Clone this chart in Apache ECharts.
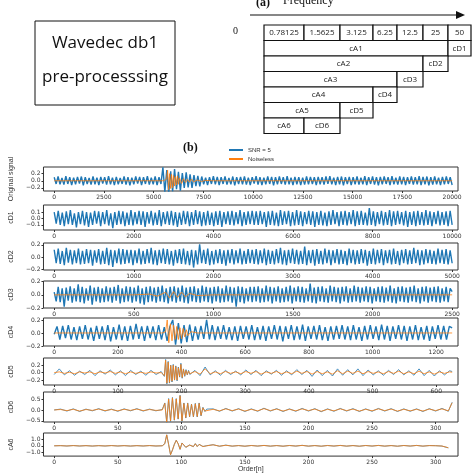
<!DOCTYPE html>
<html><head><meta charset="utf-8">
<script src="https://cdn.jsdelivr.net/npm/echarts@6/dist/echarts.min.js"></script>
<style>html,body{margin:0;padding:0;background:#fff}#c{width:474px;height:474px}</style>
</head><body><div id="c"></div>
<script>
// ---------- data ----------
const freqLabels = ['0.78125','1.5625','3.125','6.25','12.5','25','50'];
const approxLabels = ['cA1','cA2','cA3','cA4','cA5','cA6'];
const detailLabels = ['cD1','cD2','cD3','cD4','cD5','cD6'];
const panelNames = ['Original signal','cD1','cD2','cD3','cD4','cD5','cD6','cA6'];
const panelLengths = [20000,10000,5000,2500,1250,625,313,313];
const xTicks = [
 [0,2500,5000,7500,10000,12500,15000,17500,20000],
 [0,2000,4000,6000,8000,10000],
 [0,1000,2000,3000,4000,5000],
 [0,500,1000,1500,2000,2500],
 [0,200,400,600,800,1000,1200],
 [0,100,200,300,400,500,600],
 [0,50,100,150,200,250,300],
 [0,50,100,150,200,250,300]];
const yTicks = [[-0.2,0,0.2],[-0.1,0,0.1],[-0.2,0,0.2],[-0.2,0,0.2],[-0.2,0,0.2],[-0.2,0,0.2],[-0.5,0,0.5],[-1,0,1]];
const yRanges = [[-0.29,0.39],[-0.18,0.21],[-0.21,0.23],[-0.2,0.21],[-0.2,0.23],[-0.33,0.39],[-0.55,0.82],[-1.5,1.87]];

const origNoisy = [.1,-.09,.12,-.1,.08,-.11,.13,-.09,.1,-.12,.09,-.1,.11,-.08,.12,-.13,.1,-.09,.08,-.11,.12,-.1,.09,-.12,.11,-.08,.1,-.11,.13,-.1,.09,-.12,.11,-.1,.08,-.09,.12,-.11,.1,-.13,.09,-.1,.12,-.08,.11,-.12,.1,-.09,.13,-.11,.09,-.1,.12,-.12,.1,-.09,
 .38,-.32,.3,-.35,.27,-.3,.33,-.24,.25,-.28,.22,-.2,.24,-.19,.18,-.2,.16,-.15,.14,-.16,
 .12,-.1,.09,-.12,.1,-.09,.13,-.1,.11,-.12,.1,-.09,.12,-.11,.08,-.1,.12,-.13,.1,-.09,.11,-.1,.12,-.11,.09,-.12,.1,-.08,.13,-.11,.1,-.12,.09,-.1,.12,-.09,.11,-.13,.1,-.1,.12,-.09,.1,-.11,.13,-.1,.09,-.12,.11,-.1,.1,-.12,.09,-.11,.12,-.1,.11,-.09,.1,-.12,.11,-.1,
 .1,-.11,.12,-.09,.13,-.1,.09,-.12,.11,-.1,.12,-.13,.1,-.09,.11,-.12,.1,-.1,.12,-.11,.09,-.1,.13,-.12,.1,-.09,.12,-.11,.1,-.13,.11,-.1,.12,-.09,.1,-.12,.13,-.1,.09,-.11,.12,-.1,.11,-.12,.1,-.09,.12,-.11,.1,-.1,.13,-.12,.11,-.1,.12,-.13,.1,-.11,.12,-.1,.09,-.12,.11,-.1,.12,-.09,.1,-.12];
const origCleanX = [0,5500,5650,5700,5750,5800,5850,5900,5950,6000,6050,6100,6150,6200,6250,6300,6400,6500,6600,6700,6800,6900,7000,7200,7400,7600,8000,20000];
const origCleanY = [0,0,0.05,0.3,-0.25,0.2,-0.22,0.18,-0.2,0.15,-0.15,0.12,-0.12,0.14,-0.1,0.08,-0.08,0.06,-0.05,0.04,-0.04,0.05,-0.03,0.02,-0.02,0.01,0,0];
const cD1Noisy = [.1,-.08,.12,-.1,.09,-.12,.11,-.09,.13,-.1,.08,-.14,.1,-.09,.12,-.11,.1,-.13,.09,-.1,.12,-.08,.11,-.12,.1,-.09,.13,-.11,.08,-.15,.1,-.1,.12,-.09,.11,-.12,.09,-.1,.13,-.11,.1,-.09,.12,-.1,.11,-.13,.1,-.08,.12,-.11,.09,-.1,.13,-.12,.1,-.09,.11,-.1,.12,-.11,.1,-.13,.09,-.1,.12,-.09,.11,-.12,.1,-.1,.13,-.09,.11,-.12,.1,-.11,.12,-.1,.09,-.12,.11,-.1,.12,-.13,.1,-.09,.11,-.1,.12,-.11,.1,-.09,.13,-.12,.1,-.1,.11,-.09,.12,-.1,
 .11,-.1,.12,-.09,.1,-.13,.11,-.1,.12,-.11,.09,-.12,.13,-.1,.11,-.09,.12,-.12,.1,-.11,.13,-.1,.11,-.12,.1,-.09,.12,-.1,.11,-.13,.1,-.1,.12,-.11,.09,-.12,.11,-.1,.13,-.09,.1,-.12,.11,-.1,.12,-.11,.1,-.09,.13,-.12,.11,-.1,.12,-.1,.09,-.11,.16,-.1,.11,-.12,.1,-.09,.12,-.11,.1,-.1,.13,-.12,.11,-.1,.12,-.09,.1,-.11,.12,-.13,.1,-.1,.11,-.12,.12,-.1,.1,-.11,.13,-.1,.11,-.12,.1,-.09,.12,-.11,.1,-.1,.11,-.12,.12,-.1];
const cD2Noisy = [.12,-.1,.14,-.11,.1,-.13,.15,-.09,.12,-.12,.11,-.1,.14,-.12,.1,-.11,.13,-.1,.12,-.14,.11,-.09,.13,-.12,.1,-.11,.15,-.13,.12,-.16,.11,-.1,.14,-.12,.13,-.11,.12,-.1,.12,-.13,.11,-.1,.14,-.12,.1,-.11,.13,-.1,.15,-.12,.11,-.13,.12,-.1,.14,-.11,.13,-.12,.1,-.14,.12,-.1,.13,-.11,.14,-.12,.1,-.13,.12,-.17,.11,-.12,.21,-.1,.12,-.11,.14,-.13,.1,-.12,.12,-.1,.13,-.11,.11,-.14,.12,-.1,.13,-.12,.11,-.1,.14,-.12,.1,-.11,.13,-.1,.12,-.11,
 .13,-.12,.11,-.1,.14,-.13,.12,-.11,.1,-.12,.13,-.1,.15,-.12,.11,-.13,.12,-.1,.14,-.11,.12,-.12,.1,-.11,.17,-.13,.11,-.1,.12,-.14,.13,-.11,.1,-.12,.14,-.1,.12,-.13,.11,-.1,.13,-.12,.12,-.11,.1,-.13,.14,-.1,.12,-.12,.11,-.11,.13,-.1,.12,-.14,.1,-.11,.14,-.12,.12,-.1,.13,-.13,.11,-.1,.12,-.12,.14,-.11,.1,-.13,.12,-.1,.13,-.12,.11,-.11,.15,-.1,.12,-.13,.11,-.12,.13,-.1,.12,-.11,.1,-.12,.14,-.1,.12,-.11,.13,-.12,.11,-.1];
const cD3Noisy = [.04,-.1,.12,-.11,.1,-.18,.11,-.09,.13,-.12,.1,-.1,.16,-.11,.12,-.13,.1,-.09,.14,-.15,.11,-.1,.12,-.12,.1,-.11,.13,-.1,.11,-.12,.12,-.09,.15,-.13,.1,-.11,.13,-.1,.12,-.12,.11,-.1,.14,-.13,.1,-.15,.12,-.11,.13,-.1,.11,-.12,.12,-.1,.14,-.11,.1,-.13,.12,-.1,.13,-.12,.11,-.1,.14,-.12,.11,-.13,.12,-.1,.13,-.11,.1,-.12,.14,-.1,.12,-.11,.11,-.13,.12,-.1,.13,-.12,.1,-.11,.14,-.1,.12,-.12,.11,-.18,.13,-.11,.12,-.13,.1,-.1,.12,-.11,
 .12,-.1,.13,-.12,.1,-.11,.14,-.1,.12,-.13,.11,-.1,.13,-.12,.1,-.11,.12,-.1,.14,-.13,.11,-.1,.13,-.11,.12,-.12,.1,-.1,.17,-.12,.11,-.13,.12,-.1,.13,-.11,.1,-.12,.14,-.1,.12,-.11,.11,-.13,.12,-.1,.13,-.12,.1,-.11,.14,-.1,.12,-.12,.11,-.1,.13,-.11,.12,-.13,.1,-.1,.12,-.11,.13,-.12,.11,-.1,.14,-.12,.1,-.13,.12,-.1,.13,-.11,.11,-.12,.12,-.1,.14,-.11,.1,-.13,.12,-.1,.13,-.12,.11,-.1,.12,-.11,.13,-.12,.1,-.1,.12,-.11,.1,.05];
const cD3CleanX = [0,500,600,650,700,725,750,775,800,825,850,900,1000,2500];
const cD3CleanY = [0,0,0.01,-0.02,0.04,-0.05,0.05,-0.04,0.04,-0.03,0.02,-0.01,0,0];
const cD4Noisy = [-.02,.1,-.1,.11,-.08,.12,-.1,.09,-.11,.1,-.09,.12,-.1,.08,-.12,.11,-.09,.1,-.11,.12,-.13,.09,-.1,.13,-.11,.1,-.12,.11,-.1,.14,-.09,.1,-.12,.11,-.08,.1,-.11,.12,-.1,.09,-.12,.1,
 .2,-.18,.15,-.16,.12,-.14,.13,-.12,.1,-.1,.11,-.09,.2,-.1,.12,-.11,.1,-.09,.12,-.1,.09,-.11,.1,-.12,.11,-.09,.1,-.1,.12,-.11,.09,-.1,.11,-.12,.1,-.09,.12,-.1,.11,-.13,.1,-.09,.12,-.11,.1,-.1,.13,-.12,.1,-.09,.11,-.1,.12,-.11,.09,-.12,.1,-.1,.11,-.09,.12,-.1,.1,-.11,.12,-.1,.09,-.12,.11,-.1,.12,-.09,.1,-.11,.13,-.1,.11,-.12,.1,-.09,.12,-.1,.11,-.12,.1,-.1,.12,-.11,.09,-.1,.11,-.12,.1,-.09,.12,-.1,.11,-.1,.1,.08];
const cD4CleanX = [0,340,350,355,360,365,370,375,380,385,390,395,400,405,410,415,420,430,450,1250];
const cD4CleanY = [0,0,0.02,0.2,-0.15,0.14,-0.12,0.12,-0.1,0.1,-0.1,0.08,-0.09,0.07,-0.06,0.05,-0.04,0.02,0,0];
// sample grids (breakpoint segments: start, end, step)
const cD5Segments = [[0,168,8],[171,213,2],[221,621,8],[625,625,1]];
const cD5Noisy = [-.05,.1,-.06,.05,-.07,.04,-.05,.06,-.08,.05,-.04,.07,-.06,.05,-.08,.06,-.05,.04,-.07,.06,-.05,.03,
 .05,-.1,.35,-.3,.3,-.28,.2,-.25,.22,-.2,.18,-.22,.15,-.12,.25,-.15,.1,-.1,.08,-.06,.06,-.05,
 .06,-.08,.15,-.06,.05,-.07,.06,-.05,.04,-.06,.07,-.05,.06,-.08,.05,-.04,.06,-.07,.05,-.06,.08,-.05,.06,-.1,.07,-.08,.06,-.09,.1,-.07,.08,-.06,.1,-.08,.07,-.06,.05,-.07,.06,-.05,.08,-.06,.05,-.07,.1,-.08,.06,-.09,.05,-.06,.05,.03];
const cD5Clean = [0,.02,-.02,.01,-.03,.02,-.01,.02,-.03,.02,-.01,.03,-.02,.02,-.03,.02,-.02,.01,-.02,.02,-.01,0,
 .03,-.08,.33,-.28,.28,-.26,.19,-.23,.2,-.19,.16,-.2,.13,-.1,.22,-.13,.09,-.08,.06,-.05,.04,-.03,
 .03,-.04,.1,-.03,.02,-.03,.03,-.02,.02,-.03,.03,-.02,.03,-.04,.02,-.02,.03,-.03,.02,-.03,.04,-.02,.03,-.04,.03,-.03,.02,-.04,.05,-.03,.04,-.02,.04,-.03,.03,-.02,.02,-.03,.03,-.02,.04,-.03,.02,-.03,.04,-.03,.02,-.04,.02,-.02,.02,.01];
const cD6Segments = [[0,85,5],[87,120,1.5],[125,310,5],[313,313,1]];
const cD6Noisy = [0,.04,-.05,.05,-.07,.04,-.04,.06,-.05,.04,-.06,.05,-.04,.06,-.05,.04,-.04,.02,
 .32,-.57,.52,-.52,.57,-.47,.52,-.42,.67,-.52,.32,-.37,.32,-.32,.27,-.32,.3,-.32,.32,-.27,.12,-.07,.04,
 .05,-.06,.07,-.05,.06,-.07,.05,-.06,.08,-.05,.06,-.07,.05,-.06,.07,-.05,.06,-.08,.05,-.06,.07,-.05,.06,-.07,.05,-.06,.07,-.05,.06,-.07,.05,-.06,.05,-.07,.06,-.05,.07,-.06,.35];
const cD6Clean = [0,.02,-.03,.03,-.05,.02,-.02,.04,-.03,.02,-.04,.03,-.02,.04,-.03,.02,-.02,0,
 .3,-.55,.5,-.5,.55,-.45,.5,-.4,.65,-.5,.3,-.35,.3,-.3,.25,-.3,.28,-.3,.3,-.25,.1,-.05,.02,
 .03,-.04,.05,-.03,.04,-.05,.03,-.04,.06,-.03,.04,-.05,.03,-.04,.05,-.03,.04,-.06,.03,-.04,.05,-.03,.04,-.05,.03,-.04,.05,-.03,.04,-.05,.03,-.04,.03,-.05,.04,-.03,.05,-.04,.33];
const cA6Noisy = [0,.03,-.03,.04,-.03,.03,-.04,.03,-.03,.04,-.03,.03,-.04,.03,-.03,.04,-.03,.01,
 .32,1.6,.2,-1.3,-.62,.22,.82,.3,-.52,.42,.5,-.22,-.3,.12,.22,-.12,.32,-.1,.22,.12,-.1,.12,.02,
 .16,-.06,.1,-.05,.04,-.06,.05,-.04,.06,-.05,.04,-.06,.05,-.04,.07,-.05,.04,-.06,.05,-.04,.06,-.05,.04,-.06,.05,-.04,.06,-.05,.04,-.06,.05,-.04,.06,-.05,.04,.02,-.04,-.3];
const cA6Clean = [0,.02,-.02,.03,-.02,.02,-.03,.02,-.02,.03,-.02,.02,-.03,.02,-.02,.03,-.02,0,
 .3,1.6,.2,-1.3,-.6,.2,.8,.3,-.5,.4,.5,-.2,-.3,.1,.2,-.1,.3,-.1,.2,.1,-.1,.1,0,
 .15,-.05,.08,-.04,.03,-.05,.04,-.03,.05,-.04,.03,-.05,.04,-.03,.06,-.04,.03,-.05,.04,-.03,.05,-.04,.03,-.05,.04,-.03,.05,-.04,.03,-.05,.04,-.03,.05,-.04,.03,.01,-.03,-.28];

// ---------- build ----------
function grid(segs){const xs=[];segs.forEach(([a,b,s])=>{for(let x=a;x<=b+1e-9;x+=s)xs.push(x);});return xs;}
function even(ys,N){return ys.map((y,i)=>[i*N/(ys.length-1),y]);}
function pair(xs,ys){const n=Math.min(xs.length,ys.length);const r=[];for(let i=0;i<n;i++)r.push([xs[i],ys[i]]);return r;}
const g5=grid(cD5Segments), g6=grid(cD6Segments);
const noisy=[even(origNoisy,20000),even(cD1Noisy,10000),even(cD2Noisy,5000),even(cD3Noisy,2500),even(cD4Noisy,1250),pair(g5,cD5Noisy),pair(g6,cD6Noisy),pair(g6,cA6Noisy)];
const clean=[pair(origCleanX,origCleanY),null,null,pair(cD3CleanX,cD3CleanY),pair(cD4CleanX,cD4CleanY),pair(g5,cD5Clean),pair(g6,cD6Clean),pair(g6,cA6Clean)];
const boxes=[[167,191],[205,230],[243,270],[281,308],[318,346],[358,385],[392,422],[433,460]];
const grids=[],xAxes=[],yAxes=[],series=[];
const lab={fontSize:6,color:'#333',fontFamily:'DejaVu Sans'};
boxes.forEach(([t,b],i)=>{
  const N=panelLengths[i];
  grids.push({left:33,right:16,top:t,height:b-t,show:true,borderColor:'#333',borderWidth:1,backgroundColor:'transparent'});
  xAxes.push({type:'value',gridIndex:i,min:-N*11/408,max:N*(1+6/408),axisLine:{show:false,onZero:false},splitLine:{show:false},
    axisTick:{length:2,customValues:xTicks[i],lineStyle:{color:'#333'}},axisLabel:Object.assign({customValues:xTicks[i],margin:3,formatter:v=>String(v)},lab),
    name:i===7?'Order[n]':'',nameLocation:'middle',nameGap:9,nameTextStyle:{fontSize:7,color:'#333'}});
  yAxes.push({type:'value',gridIndex:i,min:yRanges[i][0],max:yRanges[i][1],axisLine:{show:false,onZero:false},splitLine:{show:false},
    axisTick:{length:2,customValues:yTicks[i],lineStyle:{color:'#333'}},
    axisLabel:Object.assign({customValues:yTicks[i],margin:3,formatter:v=>v.toFixed(1).replace('-','\u2212')},lab),
    name:panelNames[i],nameLocation:'middle',nameRotate:90,nameGap:20,nameTextStyle:{fontSize:7,color:'#333'}});
  series.push({name:'SNR = 5',type:'line',xAxisIndex:i,yAxisIndex:i,data:noisy[i],symbol:'none',lineStyle:{width:i<5?1.4:0.8,color:'#1f77b4'},itemStyle:{color:'#1f77b4'},animation:false,silent:true});
  if(clean[i])series.push({name:'Noiseless',type:'line',xAxisIndex:i,yAxisIndex:i,data:clean[i],symbol:'none',lineStyle:{width:0.8,color:'#ff7f0e'},itemStyle:{color:'#ff7f0e'},animation:false,silent:true});
});
// diagram
const G=[];
const colX=[264,304,340,373,397,423,448,471];const rowTop=25,rh=15.5;
const cellFont={fontSize:8,fill:'#222',fontFamily:'Open Sans'};
function cell(x0,x1,y,txt){
  G.push({type:'rect',shape:{x:x0,y:y,width:x1-x0,height:rh},style:{fill:'#fff',stroke:'#111',lineWidth:1.2}});
  G.push({type:'text',x:(x0+x1)/2,y:y+rh/2,style:Object.assign({text:txt,align:'center',verticalAlign:'middle'},cellFont)});
}
freqLabels.forEach((f,j)=>cell(colX[j],colX[j+1],rowTop,f));
for(let k=1;k<=6;k++){const y=rowTop+k*rh;cell(colX[0],colX[7-k],y,approxLabels[k-1]);cell(colX[7-k],colX[8-k],y,detailLabels[k-1]);}
G.push({type:'line',shape:{x1:250,y1:15,x2:458,y2:15},style:{stroke:'#111',lineWidth:1.2}});
G.push({type:'polygon',shape:{points:[[456,11],[465,15],[456,19]]},style:{fill:'#111'}});
G.push({type:'text',x:256,y:-3,style:{text:'(a)',fontSize:12,fontWeight:'bold',fontFamily:'Liberation Serif',fill:'#111'}});
G.push({type:'text',x:283,y:-5,style:{text:'Frequency',fontSize:12,fontFamily:'Liberation Serif',fill:'#111'}});
G.push({type:'text',x:233,y:26,style:{text:'0',fontSize:10,fontFamily:'Liberation Serif',fill:'#111'}});
G.push({type:'rect',shape:{x:35,y:21,width:140,height:84},style:{fill:'#fff',stroke:'#111',lineWidth:1}});
G.push({type:'text',x:105,y:43,style:{text:'Wavedec db1',fontSize:17,fontFamily:'Open Sans',fill:'#111',align:'center',verticalAlign:'middle'}});
G.push({type:'text',x:105,y:77,style:{text:'pre-processsing',fontSize:17,fontFamily:'Open Sans',fill:'#111',align:'center',verticalAlign:'middle'}});
G.push({type:'text',x:183,y:142,style:{text:'(b)',fontSize:12,fontWeight:'bold',fontFamily:'Liberation Serif',fill:'#111'}});

const chart=echarts.init(document.getElementById('c'),null,{renderer:'canvas'});
chart.setOption({animation:false,backgroundColor:'#fff',grid:grids,xAxis:xAxes,yAxis:yAxes,series:series,graphic:G,
  legend:{data:['SNR = 5','Noiseless'],orient:'vertical',left:224,top:142,itemWidth:14,itemHeight:2,itemGap:3,icon:'rect',
    textStyle:{fontSize:6,color:'#333'},borderColor:'#ccc',borderWidth:0}});
</script></body></html>
